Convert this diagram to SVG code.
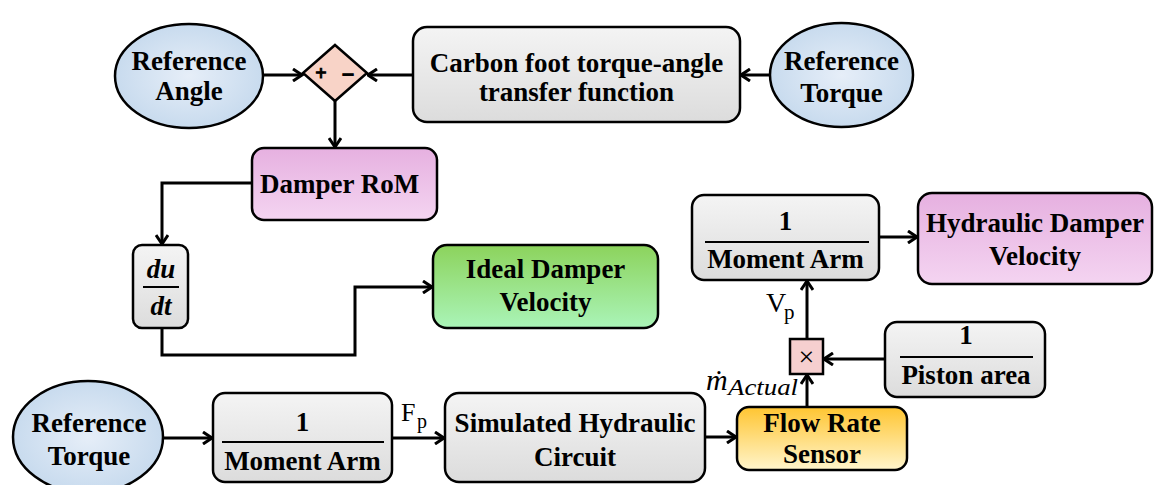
<svg xmlns="http://www.w3.org/2000/svg" width="1171" height="485" viewBox="0 0 1171 485">
<style>
.t{font-family:"Liberation Serif","Times New Roman",serif;font-weight:bold;font-size:27px;text-anchor:middle;fill:#000}
.m{font-family:"Liberation Serif","Times New Roman",serif;fill:#000}
.box{stroke:#000;stroke-width:2.5}
.con{fill:none;stroke:#000;stroke-width:3}
.arr{marker-end:url(#ah)}
.frac{stroke:#000;stroke-width:2}
</style>
<defs>
<radialGradient id="gEll" cx="0.5" cy="0.5" r="0.6">
<stop offset="0" stop-color="#e6eef8"/><stop offset="1" stop-color="#c2d7ec"/>
</radialGradient>
<linearGradient id="gGray" x1="0" y1="0" x2="0" y2="1">
<stop offset="0" stop-color="#f4f4f4"/><stop offset="1" stop-color="#dcdcdc"/>
</linearGradient>
<linearGradient id="gPink" x1="0" y1="0" x2="0" y2="1">
<stop offset="0" stop-color="#e6b0e0"/><stop offset="1" stop-color="#f4d4f1"/>
</linearGradient>
<linearGradient id="gGreen" x1="0" y1="0" x2="0" y2="1">
<stop offset="0" stop-color="#8cd35c"/><stop offset="1" stop-color="#aaf4b8"/>
</linearGradient>
<linearGradient id="gYellow" x1="0" y1="0" x2="0" y2="1">
<stop offset="0" stop-color="#ffc531"/><stop offset="1" stop-color="#fff5cc"/>
</linearGradient>
<marker id="ah" markerUnits="userSpaceOnUse" viewBox="0 0 12 14" markerWidth="12" markerHeight="14" refX="10.5" refY="7" orient="auto">
<path d="M1.5,1 L10.5,7 L1.5,13" fill="none" stroke="#000" stroke-width="3"/>
</marker>
</defs>

<g id="connectors">
<path class="con arr" d="M263,75 H302"/>
<path class="con arr" d="M413,75 H368"/>
<path class="con arr" d="M770,75 H741"/>
<path class="con arr" d="M335,101 V147"/>
<path class="con arr" d="M252,183 H162 V244"/>
<path class="con arr" d="M162,328 V355 H355 V287 H432"/>
<path class="con arr" d="M163,438 H212"/>
<path class="con arr" d="M392,438 H444"/>
<path class="con arr" d="M705,437 H736"/>
<path class="con arr" d="M807,407 V375"/>
<path class="con arr" d="M885,359 H824"/>
<path class="con arr" d="M807,339 V281"/>
<path class="con arr" d="M880,237 H917"/>
</g>

<g id="ref-angle">
<ellipse class="box" cx="189" cy="76" rx="74" ry="52" fill="url(#gEll)"/>
<text class="t" x="189" y="70">Reference</text>
<text class="t" x="189" y="100">Angle</text>
</g>

<g id="sum">
<polygon class="box" points="335,45 367,73 335,101 303,73" fill="#f8d3c7"/>
<text class="m" x="321" y="80" font-size="20" font-weight="bold" text-anchor="middle" stroke="#000" stroke-width="1">+</text>
<text class="m" x="348" y="80" font-size="20" font-weight="bold" text-anchor="middle" stroke="#000" stroke-width="1.2">–</text>
</g>

<g id="carbon-foot">
<rect class="box" x="413" y="27" width="327" height="95" rx="14" fill="url(#gGray)"/>
<text class="t" x="576.5" y="72">Carbon foot torque-angle</text>
<text class="t" x="576.5" y="101">transfer function</text>
</g>

<g id="ref-torque-top">
<ellipse class="box" cx="841.5" cy="75" rx="71.5" ry="52" fill="url(#gEll)"/>
<text class="t" x="841.5" y="70">Reference</text>
<text class="t" x="841.5" y="102">Torque</text>
</g>

<g id="damper-rom">
<rect class="box" x="252" y="148" width="185" height="72" rx="12" fill="url(#gPink)"/>
<text class="t" x="339.5" y="193">Damper RoM</text>
</g>

<g id="derivative">
<rect class="box" x="133" y="245" width="55" height="83" rx="9" fill="url(#gGray)"/>
<text class="t" x="161" y="278" font-style="italic" font-size="29">du</text>
<line class="frac" x1="143" y1="287" x2="179" y2="287"/>
<text class="t" x="161" y="315" font-style="italic" font-size="29">dt</text>
</g>

<g id="ideal-velocity">
<rect class="box" x="433" y="245" width="225" height="83" rx="14" fill="url(#gGreen)"/>
<text class="t" x="545.5" y="278">Ideal Damper</text>
<text class="t" x="545.5" y="311">Velocity</text>
</g>

<g id="moment-arm-top">
<rect class="box" x="692" y="195" width="187" height="85" rx="12" fill="url(#gGray)"/>
<text class="t" x="785.5" y="230">1</text>
<line class="frac" x1="705" y1="242" x2="869" y2="242"/>
<text class="t" x="785.5" y="268">Moment Arm</text>
</g>

<g id="hydraulic-velocity">
<rect class="box" x="918" y="193" width="234" height="91" rx="14" fill="url(#gPink)"/>
<text class="t" x="1035" y="232">Hydraulic Damper</text>
<text class="t" x="1035" y="265">Velocity</text>
</g>

<g id="label-vp">
<text class="m" x="766" y="312" font-size="28">V</text>
<text class="m" x="784" y="319" font-size="21">p</text>
</g>

<g id="multiply">
<rect class="box" x="790" y="339" width="33" height="35" fill="#f6cfcf"/>
<text class="m" x="806.5" y="366" font-size="28" text-anchor="middle">×</text>
</g>

<g id="piston-area">
<rect class="box" x="885" y="322" width="160" height="75" rx="12" fill="url(#gGray)"/>
<text class="t" x="966" y="344">1</text>
<line class="frac" x1="900" y1="357" x2="1033" y2="357"/>
<text class="t" x="966" y="384">Piston area</text>
</g>

<g id="label-mdot">
<text class="m" x="706" y="390" font-size="30" font-style="italic">ṁ</text>
<text class="m" x="728" y="395" font-size="23" font-style="italic" textLength="70" lengthAdjust="spacingAndGlyphs">Actual</text>
</g>

<g id="flow-sensor">
<rect class="box" x="737" y="407" width="170" height="63" rx="12" fill="url(#gYellow)"/>
<text class="t" x="822" y="432">Flow Rate</text>
<text class="t" x="822" y="463">Sensor</text>
</g>

<g id="ref-torque-bottom">
<ellipse class="box" cx="88" cy="437" rx="75" ry="56" fill="url(#gEll)"/>
<text class="t" x="89" y="432">Reference</text>
<text class="t" x="89" y="465">Torque</text>
</g>

<g id="moment-arm-bottom">
<rect class="box" x="213" y="393" width="179" height="89" rx="12" fill="url(#gGray)"/>
<text class="t" x="302.5" y="431">1</text>
<line class="frac" x1="222" y1="442" x2="384" y2="442"/>
<text class="t" x="302.5" y="470">Moment Arm</text>
</g>

<g id="label-fp">
<text class="m" x="401" y="421" font-size="26">F</text>
<text class="m" x="417" y="428" font-size="20">p</text>
</g>

<g id="simulated-circuit">
<rect class="box" x="445" y="393" width="260" height="89" rx="14" fill="url(#gGray)"/>
<text class="t" x="575" y="432">Simulated Hydraulic</text>
<text class="t" x="575" y="466">Circuit</text>
</g>
</svg>
